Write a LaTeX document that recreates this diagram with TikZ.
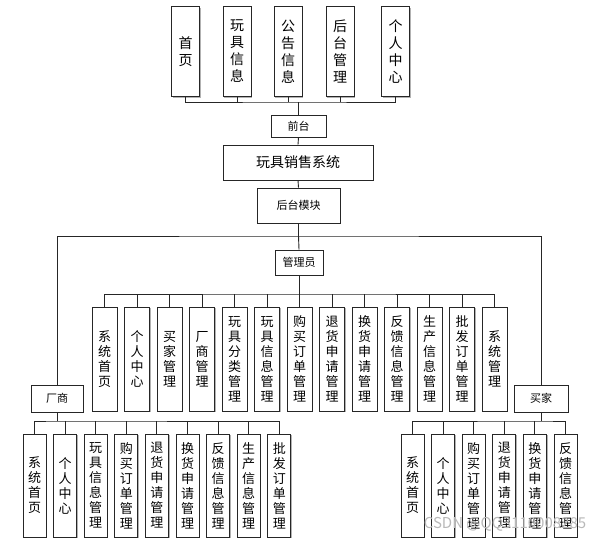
\documentclass[tikz,border=0pt]{standalone}
\usepackage{fontspec}
\setmainfont{Noto Sans CJK SC}
\usetikzlibrary{shadows}
\begin{document}
\begin{tikzpicture}[x=1pt,y=-1pt,
  box/.style={draw=black!85, line width=0.9pt, fill=white, inner sep=0pt, align=center,
    drop shadow={shadow xshift=1.2pt, shadow yshift=-1.2pt, opacity=0.3, fill=black}},
  topbox/.style={box, minimum width=28, minimum height=90, font=\fontsize{14}{17}\selectfont},
  midbox/.style={box, minimum width=25, minimum height=104, font=\fontsize{13}{15}\selectfont},
  lowbox/.style={box, minimum width=23, minimum height=103, font=\fontsize{13}{15}\selectfont},
  lbl/.style={box, font=\fontsize{11}{13}\selectfont},
  link/.style={draw=black!85, line width=0.9pt}]
\useasboundingbox (0,0) rectangle (607,543);

% top row
\node[topbox] (t1) at (185.5,51.5) {首\\页};
\node[topbox] (t2) at (237,51.5) {玩\\具\\信\\息};
\node[topbox] (t3) at (288,51.5) {公\\告\\信\\息};
\node[topbox] (t4) at (340,51.5) {后\\台\\管\\理};
\node[topbox] (t5) at (395.5,51.5) {个\\人\\中\\心};

\node[lbl, minimum width=55, minimum height=22] (qt) at (298.5,126) {前台};
\node[box, minimum width=150, minimum height=35, font=\fontsize{14}{16}\selectfont] (sys) at (298,162.5) {玩具销售系统};
\node[lbl, minimum width=83, minimum height=35] (hm) at (298.5,205.5) {后台模块};
\node[lbl, minimum width=48, minimum height=25] (gly) at (299,262.5) {管理员};
\node[lbl, minimum width=52, minimum height=27] (cs) at (57,398.5) {厂商};
\node[lbl, minimum width=54, minimum height=27] (mj) at (541,398.5) {买家};

% admin children
\foreach \lab [count=\i] in {{系\\统\\首\\页},{个\\人\\中\\心},{买\\家\\管\\理},{厂\\商\\管\\理},
  {玩\\具\\分\\类\\管\\理},{玩\\具\\信\\息\\管\\理},{购\\买\\订\\单\\管\\理},{退\\货\\申\\请\\管\\理},
  {换\\货\\申\\请\\管\\理},{反\\馈\\信\\息\\管\\理},{生\\产\\信\\息\\管\\理},{批\\发\\订\\单\\管\\理},{系\\统\\管\\理}}
  \node[midbox] (a\i) at ({72+32.5*\i},359) {\lab};

% vendor children
\foreach \lab [count=\i] in {{系\\统\\首\\页},{个\\人\\中\\心},{玩\\具\\信\\息\\管\\理},{购\\买\\订\\单\\管\\理},
  {退\\货\\申\\请\\管\\理},{换\\货\\申\\请\\管\\理},{反\\馈\\信\\息\\管\\理},{生\\产\\信\\息\\管\\理},{批\\发\\订\\单\\管\\理}}
  \node[lowbox] (c\i) at ({3.9+30.6*\i},485.5) {\lab};

% buyer children
\foreach \lab [count=\i] in {{系\\统\\首\\页},{个\\人\\中\\心},{购\\买\\订\\单\\管\\理},
  {退\\货\\申\\请\\管\\理},{换\\货\\申\\请\\管\\理},{反\\馈\\信\\息\\管\\理}}
  \node[lowbox] (m\i) at ({381.9+30.6*\i},485.5) {\lab};

% connectors: top
\coordinate (tbus) at (298.5,102);
\draw[link] (t1.south) |- (tbus) -| (t5.south);
\foreach \i in {2,3,4} \draw[link] (t\i.south) -- (t\i.south |- tbus);
\draw[link] (tbus) -- (qt.north);
\draw[link] (qt.south) -- (sys.north);
\draw[link] (sys.south) -- (hm.north);

% main split
\coordinate (hbus) at (298.5,236);
\draw[link] (hm.south) -- (hbus);
\draw[link] (cs.north) |- (hbus) -| (mj.north);
\draw[link] (hbus) -- (gly.north);

% admin bus
\coordinate (abus) at (299,294);
\draw[link] (gly.south) -- (abus);
\draw[link] (a1.north) |- (abus) -| (a13.north);
\foreach \i in {2,...,12} \draw[link] (a\i.north) -- (a\i.north |- abus);

% vendor bus
\coordinate (cbus) at (57,421);
\draw[link] (cs.south) -- (cbus);
\draw[link] (c1.north) |- (cbus) -| (c9.north);
\foreach \i in {2,...,8} \draw[link] (c\i.north) -- (c\i.north |- cbus);

% buyer bus
\coordinate (mbus) at (541,421);
\draw[link] (mj.south) -- (mbus);
\draw[link] (m1.north) |- (mbus) -| (m6.north);
\foreach \i in {2,...,5} \draw[link] (m\i.north) -- (m\i.north |- mbus);

% watermark
\node[text=gray!55, font=\fontsize{15}{15}\selectfont] (wm) at (505,524) {CSDN @QQ3110008285};
\end{tikzpicture}
\end{document}
